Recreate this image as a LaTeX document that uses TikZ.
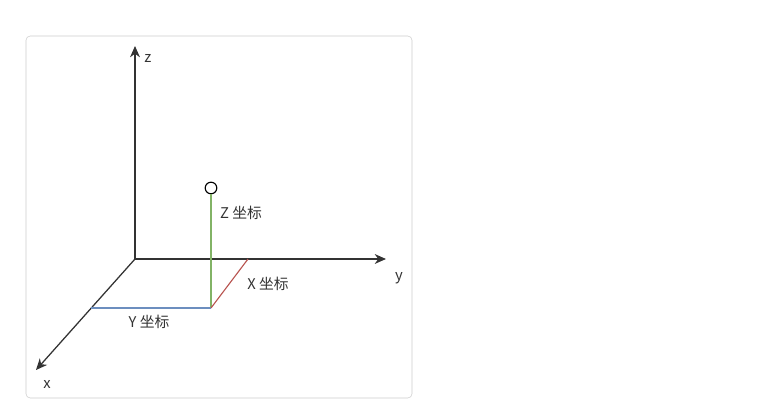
\documentclass[tikz,border=0pt]{standalone}
\usepackage{fontspec}
\setmainfont{Noto Sans CJK SC}
\usepackage{xcolor}
\usepackage{tikz}
\usetikzlibrary{arrows.meta}
\definecolor{axisgray}{HTML}{333333}
\definecolor{textgray}{HTML}{333333}
\definecolor{framegray}{HTML}{CCCCCC}
\definecolor{zgreen}{HTML}{82B366}
\definecolor{yblue}{HTML}{6C8EBF}
\definecolor{xred}{HTML}{B85450}
\tikzset{
	axis/.style={-{Stealth[length=8pt,width=7pt,inset=2.5pt]}, draw=axisgray, line width=0.9pt},
	proj/.style={line width=0.8pt},
	lbl/.style={text=textgray, font=\fontsize{10.5}{12}\selectfont, inner sep=0pt}
}

\begin{document}
\begin{tikzpicture}[x=0.025cm, y=-0.025cm]
		\useasboundingbox (0,0) rectangle (779,413);
		\draw [framegray, rounded corners=3] (26,36) rectangle (412,398);
		
		\coordinate (O) at (135,259);
		\coordinate (zend) at (135,46);
		\coordinate (yend) at (386,259);
		\coordinate (xend) at (36,370);
		\coordinate (F) at (211,308);
		\coordinate (Fx) at (91,308);
		\coordinate (Fy) at (248,259);
		
		\draw [axis] (O) -- (zend);
		\draw [axis] (O) -- (yend);
		\draw [axis] (O) -- (xend);
		
		\node[lbl] (zlbl) at (148,58) {z};
		\node[lbl] (ylbl) at (399,278) {y};
		\node[lbl] (xlbl) at (47,384) {x};
		
		\node[circle, draw=black, line width=0.8pt, minimum size=0.29cm, inner sep=0pt] (P) at (211,188) {};
		
		\draw [proj, zgreen] (P) -- (F);
		\draw [proj, yblue] (Fx) -- (F);
		\draw [proj, xred] (F) -- (Fy);
		
		\node[lbl] (zc) at (241,213) {Z 坐标};
		\node[lbl] (xc) at (268,284) {X 坐标};
		\node[lbl] (yc) at (149,322) {Y 坐标};
	\end{tikzpicture}
\end{document}
